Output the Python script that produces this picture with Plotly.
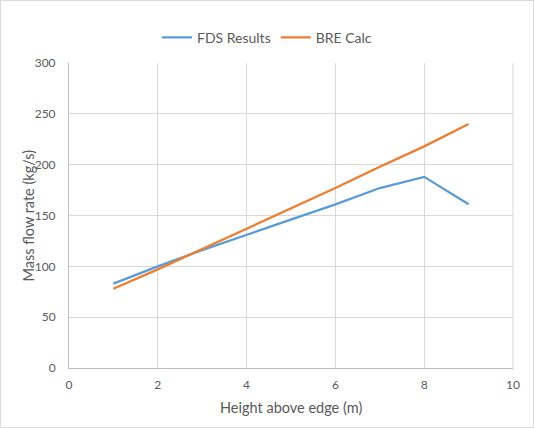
import plotly.graph_objects as go

# data
height_m = [1, 2, 3, 4, 5, 6, 7, 8, 9]
fds_results = [83, 100, 116, 131, 146, 161, 177, 188, 161]
bre_calc = [78, 97, 117, 137, 157, 177, 198, 218, 240]

grid = '#d9d9d9'
text_col = '#595959'

fig = go.Figure()
fig.add_trace(go.Scatter(x=height_m, y=fds_results, mode='lines', name='FDS Results',
                         line=dict(color='#5b9bd5', width=2.25)))
fig.add_trace(go.Scatter(x=height_m, y=bre_calc, mode='lines', name='BRE Calc',
                         line=dict(color='#ed7d31', width=2.25)))

fig.update_layout(
    width=534, height=428,
    margin=dict(l=69, r=21, t=63, b=60, autoexpand=False),
    paper_bgcolor='white', plot_bgcolor='white',
    font=dict(family='Lato, Open Sans, sans-serif', size=12, color=text_col),
    showlegend=True,
    legend=dict(orientation='h', xref='container', yref='container',
                x=0.5, xanchor='center', y=0.912, yanchor='middle',
                font=dict(size=14, color=text_col), itemwidth=30,
                traceorder='normal'),
    xaxis=dict(range=[0, 10], dtick=2, showgrid=True, gridcolor=grid, gridwidth=1,
               zeroline=False, showline=True, linecolor='#bfbfbf', linewidth=1,
               ticks='', ticklabelstandoff=6, automargin=False),
    yaxis=dict(range=[0, 300], dtick=50, showgrid=True, gridcolor=grid, gridwidth=1,
               zeroline=False, showline=True, linecolor='#bfbfbf', linewidth=1,
               ticks='', ticklabelstandoff=10, automargin=False),
    annotations=[
        dict(text='Height above edge (m)', xref='paper', yref='paper', x=0.5, y=-39 / 305,
             xanchor='center', yanchor='middle', showarrow=False,
             font=dict(size=14.5, color=text_col)),
        dict(text='Mass flow rate (kg/s)', xref='paper', yref='paper', x=-41 / 444, y=0.5,
             xanchor='center', yanchor='middle', showarrow=False, textangle=-90,
             font=dict(size=14.5, color=text_col)),
    ],
    shapes=[
        # light chart-area border
        dict(type='rect', xref='paper', yref='paper',
             x0=-68.5 / 444, x1=464.5 / 444, y0=-59.5 / 305, y1=367.5 / 305,
             line=dict(color=grid, width=1), fillcolor='rgba(0,0,0,0)', layer='below'),
        # right grid edge
        dict(type='line', xref='paper', yref='paper', x0=1, x1=1, y0=0, y1=1,
             line=dict(color=grid, width=1)),
    ],
)

# drop the browser's default page margin so the figure sits at 0,0
fig.write_html('out.html', config={'displayModeBar': False},
               post_script="document.body.style.margin='0';")
